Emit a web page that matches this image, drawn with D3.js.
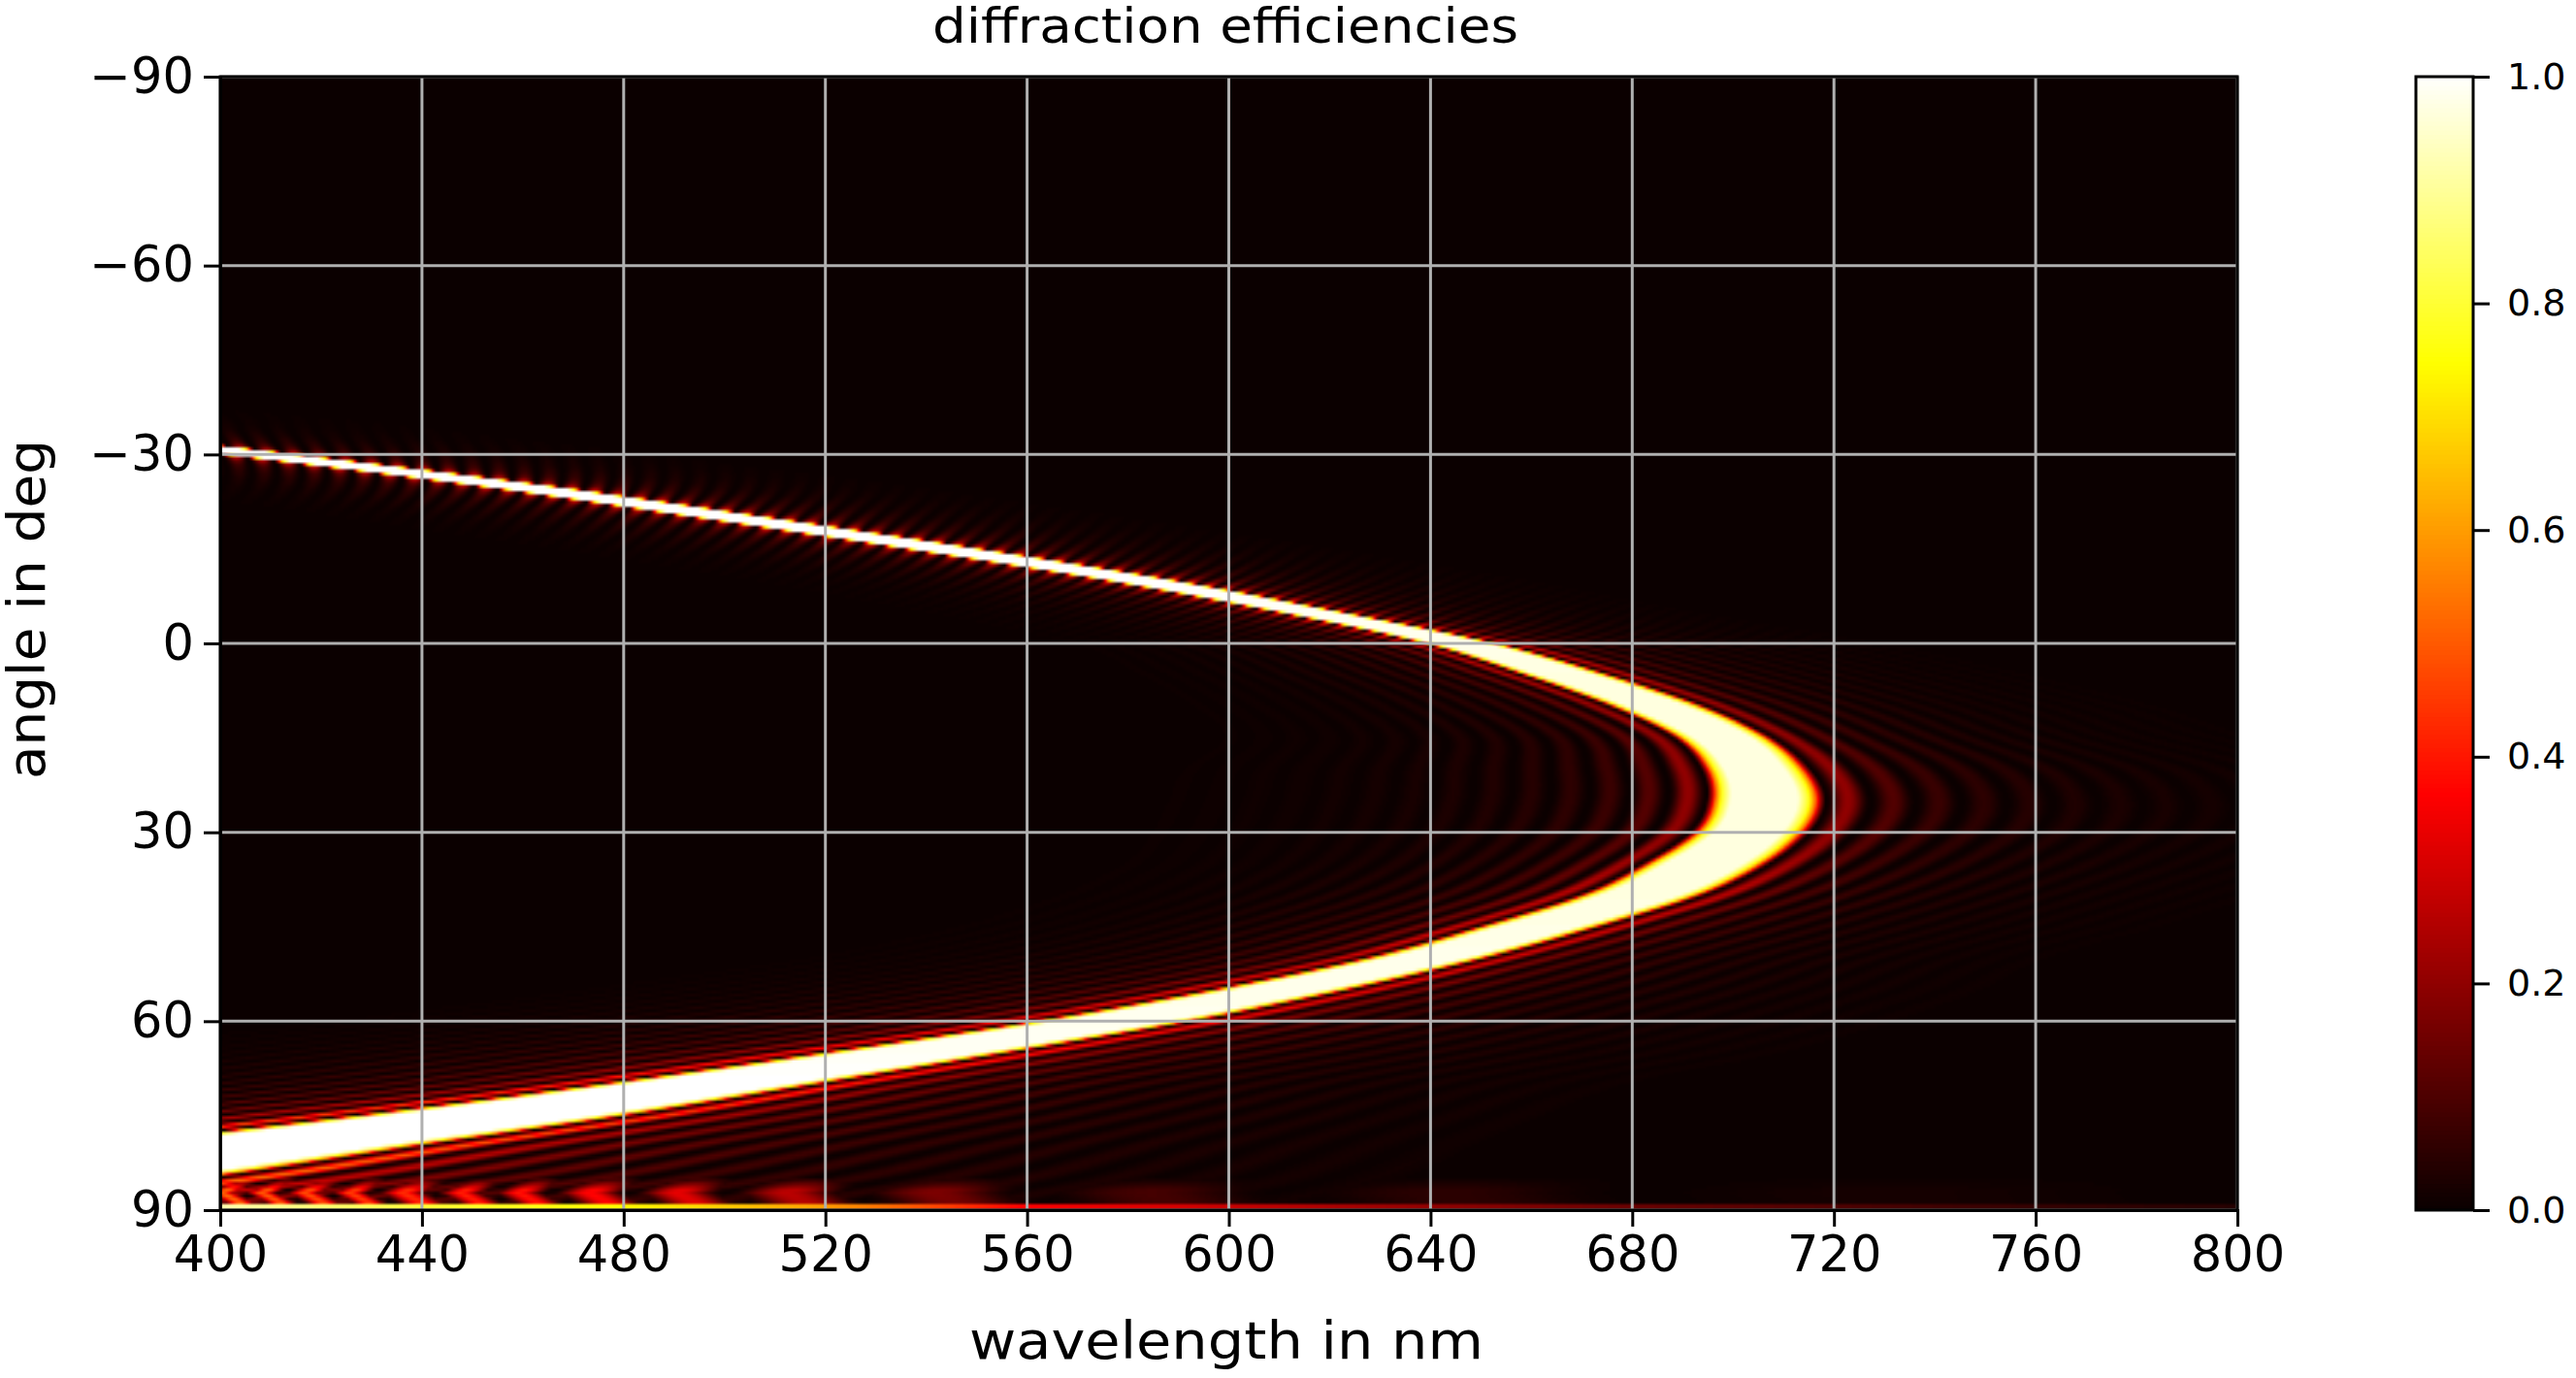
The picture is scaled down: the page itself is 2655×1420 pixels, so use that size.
<!DOCTYPE html>
<html>
<head>
<meta charset="utf-8">
<title>diffraction efficiencies</title>
<script src="https://cdn.jsdelivr.net/npm/d3@7"></script>
<style>
  html, body { margin: 0; padding: 0; background: #fff; }
  svg { display: block; }
  text { font-family: "DejaVu Sans", sans-serif; fill: #000; }
</style>
</head>
<body>
<svg id="chart" width="2655" height="1420"></svg>
<script>
// Axis ticks
const wavelengthTicks = [400, 440, 480, 520, 560, 600, 640, 680, 720, 760, 800];
const angleTicks = [-90, -60, -30, 0, 30, 60, 90];
const efficiencyTicks = [0, 0.2, 0.4, 0.6, 0.8, 1];

// Rows of the ridge table, in degrees, 5 degrees apart
const ridgeAngle = [-40, -35, -30, -25, -20, -15, -10, -5, 0, 5, 10, 15, 20, 25, 30, 35, 40, 45, 50, 55, 60, 65, 70, 75, 80, 85, 90];
// Centre of the bright ridge at each row, nm
const ridgeCentre = [305, 355, 408.6, 458.7, 502, 543.7, 582.6, 616, 646, 667, 685, 698, 704.5, 706.5, 703.4, 694.7, 682, 662, 639.5, 611, 578, 539, 498, 455, 407, 360, 305];
// Half width of the saturated ridge at each row, nm
const ridgeHalfWidth = [7, 7, 7, 7, 7, 7, 6.5, 6, 6.5, 7.5, 8, 8, 8.7, 9.5, 9.6, 10.5, 10.5, 10.5, 10.5, 12, 14, 16.5, 19.5, 24.5, 29.5, 35, 40];
// Plateau efficiency along the ridge
const ridgePeak = [1, 1, 1, 1, 1, 1, 1, 0.99, 0.98, 0.97, 0.97, 0.97, 0.97, 0.97, 0.97, 0.97, 0.97, 0.975, 0.98, 0.98, 0.985, 0.99, 1, 1, 1, 1, 1];
// Side-lobe spacing on the long and short wavelength sides, nm
const pitchLong = [5, 5, 5, 5, 5, 5, 5, 5, 5.5, 6, 6.5, 7, 8.5, 9, 9, 8.5, 8, 8, 8, 9, 10, 11, 11.5, 13, 15, 17, 19];
const pitchShort = [5, 5, 5, 5, 5, 5, 5, 5, 5, 5.5, 6, 6.5, 7.5, 7.8, 7.8, 7.5, 7.5, 7.5, 8, 9, 10, 11, 11.5, 13, 15, 17, 19];
// Side-lobe brightness multiplier at each row
const lobeGain = [0, 0.6, 1.1, 1.2, 1.2, 1.2, 1.2, 1.2, 1.3, 1.2, 1.05, 1, 1, 1, 1, 1.1, 1.3, 1.4, 1.5, 1.6, 1.7, 1.85, 2, 2.2, 2.4, 2.6, 2.8];
// Side-lobe peaks, counted outward from the ridge
const lobesLong = [0.2, 0.105, 0.068, 0.05, 0.04, 0.03, 0.024, 0.02, 0.016, 0.013, 0.01, 0.008, 0.006, 0.004];
const lobesShort = [0.2, 0.11, 0.07, 0.052, 0.04, 0.032, 0.026, 0.02, 0.016, 0.012, 0.009, 0.007, 0.005, 0.003];

// Grazing-angle structure along the lower plot edge
const floorWavelength = [400, 440, 480, 520, 560, 600, 640, 680, 720, 760, 800];
const floorLevel = [0.92, 0.8, 0.74, 0.6, 0.36, 0.28, 0.2, 0.14, 0.1, 0.06, 0.04];
const chevronLevel = [0.52, 0.42, 0.36, 0.24, 0.11, 0.07, 0.05, 0.03, 0.02, 0.01, 0];
const chevronNotch = [396, 404, 412, 421, 430, 442, 453, 465, 481, 500, 525, 560, 610, 680, 800];

// Sampling of the efficiency field
const wavelengthStep = 0.5;
const angleStep = 0.5;

const plot = { left: 227, right: 2306, top: 79, bottom: 1247 };
const bar = { left: 2490, right: 2549, top: 79, bottom: 1247 };

const x = d3.scaleLinear().domain([400, 800]).range([plot.left, plot.right]);
const y = d3.scaleLinear().domain([-90, 90]).range([plot.top, plot.bottom]);
const barScale = d3.scaleLinear().domain([0, 1]).range([bar.bottom, bar.top]);

const hot = d3.scaleLinear()
  .domain([0, 0.365079, 0.746032, 1])
  .range(["rgb(11,0,0)", "rgb(255,0,0)", "rgb(255,255,0)", "rgb(255,255,255)"])
  .clamp(true);
const palette = d3.range(256).map(i => d3.rgb(hot(i / 255)));

// Catmull-Rom lookup in a table with evenly spaced rows
function rowValue(table, angle) {
  const t = (angle - ridgeAngle[0]) / 5;
  const i = Math.floor(t), f = t - i;
  const at = k => table[Math.max(0, Math.min(table.length - 1, k))];
  const a = at(i - 1), b = at(i), c = at(i + 1), d = at(i + 2);
  return b + 0.5 * f * (c - a + f * (2 * a - 5 * b + 4 * c - d + f * (3 * (b - c) + d - a)));
}

const edgeProfile = d3.scaleLinear().domain([-0.35, -0.1, 0.05, 0.15, 0.27]).range([1, 0.8, 0.55, 0.25, 0]).clamp(true);
const floorAt = d3.scaleLinear().domain(floorWavelength).range(floorLevel).clamp(true);
const chevronAt = d3.scaleLinear().domain(floorWavelength).range(chevronLevel).clamp(true);

function efficiency(wl, angle, row) {
  let v = 0;
  if (row) {
    const off = wl - row.c;
    const long = off > 0;
    const s = (Math.abs(off) - row.h) / (long ? row.pl : row.ps);
    if (s < 0.27) {
      const e = edgeProfile(s);
      v = e === 1 ? row.peak : e * row.peak;
    } else {
      const t = s - 0.27, k = Math.floor(t);
      const lobes = long ? lobesLong : lobesShort;
      if (k < lobes.length) {
        const w = Math.sin(Math.PI * t);
        v = lobes[k] * row.gain * w * w;
      }
    }
  }
  // Chevron beating just above the grazing edge
  if (angle >= 85 && angle < 89.5) {
    const shifted = wl - 2.4 * Math.abs(angle - 87.5);
    const n = d3.bisectRight(chevronNotch, shifted);
    if (n > 0 && n < chevronNotch.length) {
      const a = chevronNotch[n - 1], b = chevronNotch[n];
      const w = Math.sin(Math.PI * (shifted - a) / (b - a));
      const taper = Math.min(1, (angle - 85) / 2);
      v = Math.max(v, chevronAt(wl) * taper * w * w);
    }
  }
  if (angle >= 89.5) v = Math.max(v, floorAt(wl));
  return v;
}

// Paint the field, one canvas pixel per sample, lowest angle on top
const columns = d3.range(400, 800 + wavelengthStep / 2, wavelengthStep);
const rows = d3.range(-90, 90 + angleStep / 2, angleStep);
const canvas = document.createElement("canvas");
canvas.width = columns.length;
canvas.height = rows.length;
const ctx = canvas.getContext("2d");
const image = ctx.createImageData(canvas.width, canvas.height);
rows.forEach((angle, j) => {
  const row = angle >= ridgeAngle[0] ? {
    c: rowValue(ridgeCentre, angle),
    h: rowValue(ridgeHalfWidth, angle),
    pl: rowValue(pitchLong, angle),
    ps: rowValue(pitchShort, angle),
    gain: Math.max(0, rowValue(lobeGain, angle)),
    peak: Math.min(1, rowValue(ridgePeak, angle))
  } : null;
  columns.forEach((wl, i) => {
    const v = efficiency(wl, angle, row);
    const c = palette[Math.max(0, Math.min(255, Math.round(v * 255)))];
    const p = (j * canvas.width + i) * 4;
    image.data[p] = c.r; image.data[p + 1] = c.g; image.data[p + 2] = c.b; image.data[p + 3] = 255;
  });
});
ctx.putImageData(image, 0, 0);

const svg = d3.select("#chart");

svg.append("image")
  .attr("x", x(400)).attr("y", y(-90))
  .attr("width", x(800) - x(400)).attr("height", y(90) - y(-90))
  .attr("preserveAspectRatio", "none")
  .attr("href", canvas.toDataURL());

// Grid
const grid = svg.append("g").attr("stroke", "#b0b0b0").attr("stroke-width", 3);
grid.selectAll("line.v").data(wavelengthTicks).join("line").attr("class", "v")
  .attr("x1", d => x(d)).attr("x2", d => x(d)).attr("y1", plot.top).attr("y2", plot.bottom);
grid.selectAll("line.h").data(angleTicks).join("line").attr("class", "h")
  .attr("y1", d => y(d)).attr("y2", d => y(d)).attr("x1", plot.left).attr("x2", plot.right);

function styleAxis(g, size) {
  g.selectAll("path").attr("stroke", "#000").attr("stroke-width", 3);
  g.selectAll(".tick line").attr("stroke", "#000").attr("stroke-width", 3);
  g.selectAll("text").attr("font-size", size).attr("fill", "#000");
}

svg.append("g").attr("transform", `translate(0,${plot.bottom})`)
  .call(d3.axisBottom(x).tickValues(wavelengthTicks).tickSize(17).tickPadding(10).tickFormat(d3.format("d")))
  .call(g => styleAxis(g, 51))
  .call(g => g.attr("font-family", null));

svg.append("g").attr("transform", `translate(${plot.left},0)`)
  .call(d3.axisLeft(y).tickValues(angleTicks).tickSize(17).tickPadding(10).tickFormat(d => d3.format("d")(d)))
  .call(g => styleAxis(g, 51));

svg.append("rect")
  .attr("x", plot.left).attr("y", plot.top)
  .attr("width", plot.right - plot.left).attr("height", plot.bottom - plot.top)
  .attr("fill", "none").attr("stroke", "#000").attr("stroke-width", 3);

// Titles
svg.append("text").attr("x", 1263).attr("y", 44).attr("text-anchor", "middle")
  .attr("font-size", 50).attr("textLength", 604).attr("lengthAdjust", "spacingAndGlyphs")
  .text("diffraction efficiencies");
svg.append("text").attr("x", 1264).attr("y", 1400).attr("text-anchor", "middle")
  .attr("font-size", 54).attr("textLength", 530).attr("lengthAdjust", "spacingAndGlyphs")
  .text("wavelength in nm");
svg.append("text").attr("transform", "translate(46,628) rotate(-90)").attr("text-anchor", "middle")
  .attr("font-size", 54).attr("textLength", 350).attr("lengthAdjust", "spacingAndGlyphs")
  .text("angle in deg");

// Colour bar
const barSteps = d3.range(0, 1.0001, 1 / 255);
svg.append("g").selectAll("rect").data(barSteps).join("rect")
  .attr("x", bar.left).attr("width", bar.right - bar.left)
  .attr("y", d => barScale(d) - (bar.bottom - bar.top) / 255 - 0.5)
  .attr("height", (bar.bottom - bar.top) / 255 + 1)
  .attr("fill", d => hot(d));
svg.append("rect")
  .attr("x", bar.left).attr("y", bar.top)
  .attr("width", bar.right - bar.left).attr("height", bar.bottom - bar.top)
  .attr("fill", "none").attr("stroke", "#000").attr("stroke-width", 3);
svg.append("g").attr("transform", `translate(${bar.right},0)`)
  .call(d3.axisRight(barScale).tickValues(efficiencyTicks).tickSize(17).tickPadding(18).tickFormat(d3.format(".1f")))
  .call(g => styleAxis(g, 38))
  .call(g => g.select("path").remove());
</script>
</body>
</html>
